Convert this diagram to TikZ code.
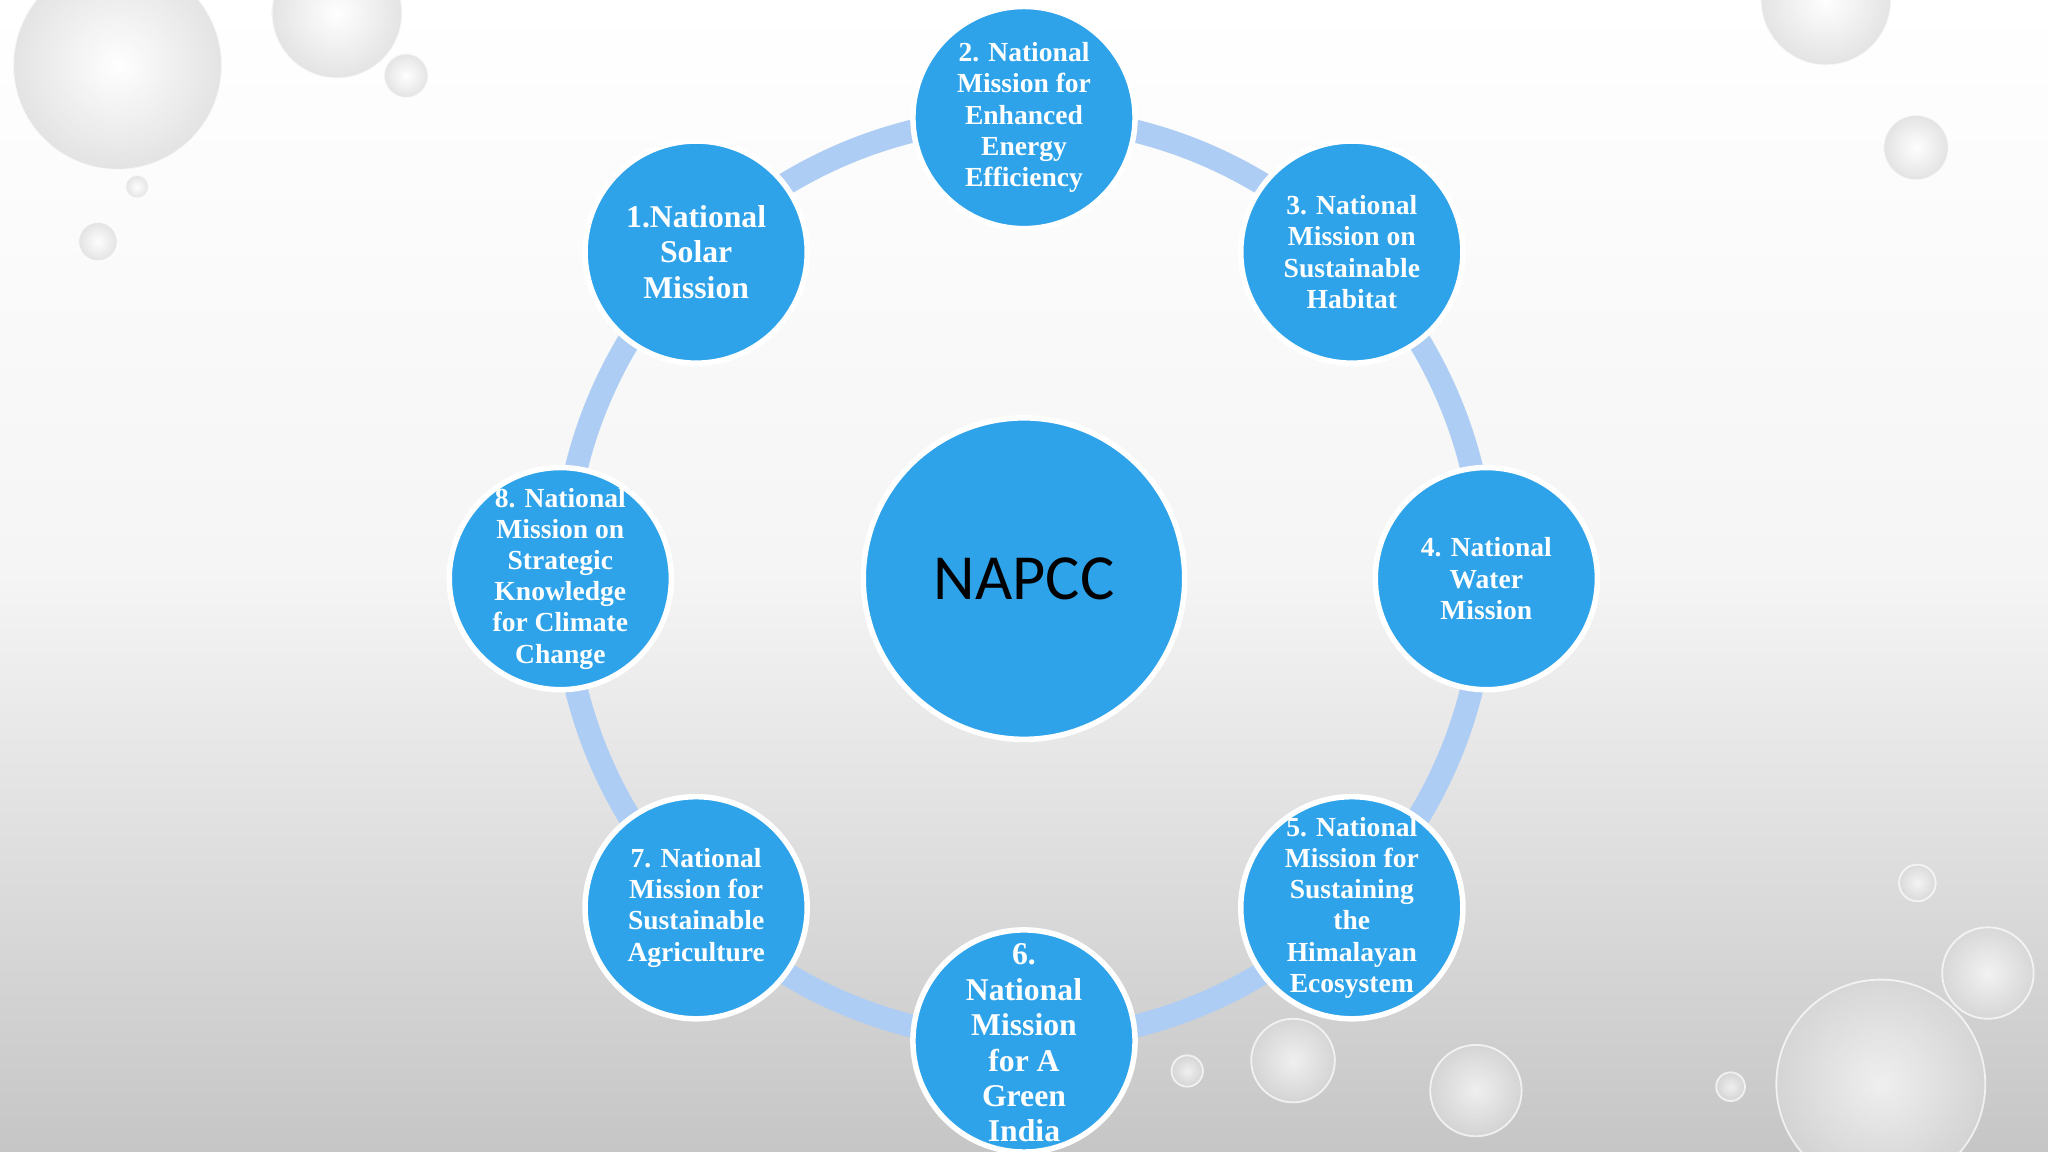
\documentclass[tikz,border=0pt]{standalone}
\usepackage{fontspec}
\setmainfont{Liberation Serif}
\newfontfamily\napfont{Carlito}
\definecolor{cfill}{HTML}{2EA3EA}
\definecolor{ring}{HTML}{AECDF4}
\begin{document}
\begin{tikzpicture}[x=0.01cm,y=-0.01cm,
  sat/.style={circle,fill=cfill,draw=white,line width=1.2pt,minimum size=1.70cm,inner sep=0pt},
  lbl/.style={text=white,font=\bfseries\fontsize{6}{6.8}\selectfont,align=center,inner sep=0pt},
  big/.style={font=\bfseries\fontsize{6.9}{7.7}\selectfont},
  drop/.style={inner color=white,outer color=gray!30,opacity=0.7,draw=white,line width=0.4pt}]
\useasboundingbox (0,0) rectangle (1568,882);
\shade[top color=white,bottom color=gray!45,middle color=gray!8] (0,0) rectangle (1568,882);
\foreach \x/\y/\r in {90/50/80,258/10/50,311/58/17,105/143/9,75/185/15,1398/0/50,1467/113/25,1468/676/14,1522/745/35,1440/830/80,990/812/32,1130/835/35,909/820/12,1325/832/11}
  \shade[drop] (\x,\y) circle (\r);
\draw[ring,line width=5pt] (784,443) circle (353);
\node[circle,fill=cfill,draw=white,line width=1.2pt,minimum size=2.46cm,inner sep=0pt,
  font=\napfont\fontsize{14}{14}\selectfont] (c) at (784,443) {NAPCC};
\node[sat] (n1) at (533,193) {};
\node[lbl,big] at (n1) {1.National\\Solar\\Mission};
\node[sat] (n2) at (784,90) {};
\node[lbl] at (n2) {2. National\\Mission for\\Enhanced\\Energy\\Efficiency};
\node[sat] (n3) at (1035,193) {};
\node[lbl] at (n3) {3. National\\Mission on\\Sustainable\\Habitat};
\node[sat] (n4) at (1138,443) {};
\node[lbl] at (n4) {4. National\\Water\\Mission};
\node[sat] (n5) at (1035,695) {};
\node[lbl] at (n5) {5. National\\Mission for\\Sustaining\\the\\Himalayan\\Ecosystem};
\node[sat] (n6) at (784,797) {};
\node[lbl,big,anchor=north] at (784,722) {6.\\National\\Mission\\for A\\Green\\India};
\node[sat] (n7) at (533,695) {};
\node[lbl] at (n7) {7. National\\Mission for\\Sustainable\\Agriculture};
\node[sat] (n8) at (429,443) {};
\node[lbl] at (n8) {8. National\\Mission on\\Strategic\\Knowledge\\for Climate\\Change};
\end{tikzpicture}
\end{document}
